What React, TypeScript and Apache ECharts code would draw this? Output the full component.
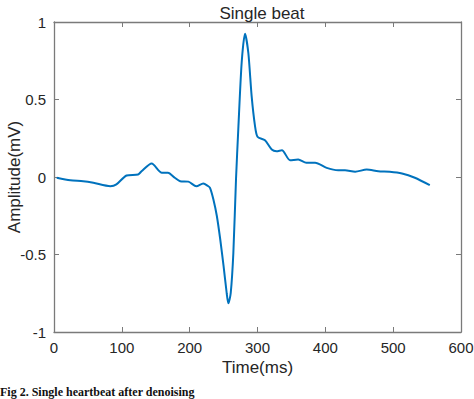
import React, { useEffect, useRef } from "react";
import * as echarts from "echarts";

const titleText = "Single beat";
const xName = "Time(ms)";
const yName = "Amplitude(mV)";
const caption = "Fig 2. Single heartbeat after denoising";

const timeMs = [
  4, 24, 43, 58, 83, 92, 107, 124, 129, 144, 159, 168, 178, 186, 198, 210, 220, 227,
  230, 235, 240, 245, 250, 254.6, 257, 260.5, 264.4, 268.3, 271.7, 276.7, 281.6, 286.5,
  291.4, 296.3, 300, 311, 321, 328, 336, 348, 360, 372, 385, 402, 419, 429, 444, 461, 478,
  495, 513, 532, 554,
];
const amplitude = [
  -0.005, -0.021, -0.027, -0.037, -0.059, -0.048, 0.01, 0.016, 0.037, 0.087, 0.027, 0.027,
  -0.005, -0.027, -0.03, -0.06, -0.042, -0.058, -0.07, -0.145, -0.25, -0.4, -0.575, -0.75,
  -0.815, -0.75, -0.49, -0.016, 0.31, 0.74, 0.925, 0.8, 0.52, 0.33, 0.26, 0.237, 0.177,
  0.166, 0.173, 0.108, 0.113, 0.092, 0.092, 0.059, 0.044, 0.044, 0.034, 0.048, 0.037, 0.034,
  0.023, -0.005, -0.053,
];

export default function App() {
  const ref = useRef<HTMLDivElement>(null);
  useEffect(() => {
    if (!ref.current) return;
    const chart = echarts.init(ref.current, null, { renderer: "svg" });
    const font = "Liberation Sans";
    const frame = "#7a7a7a";
    const axisBase = (pos: string, showLabels: boolean) => ({
      position: pos,
      splitLine: { show: false },
      axisLine: { show: true, onZero: false, lineStyle: { color: frame, width: 1.3, opacity: 1 } },
      axisTick: { show: true, inside: true, length: 5, lineStyle: { color: frame, width: 1, opacity: 1 } },
      axisLabel: showLabels
        ? { show: true, fontFamily: font, fontSize: 15, color: "#262626" }
        : { show: false },
    });
    chart.setOption({
      animation: false,
      title: {
        text: titleText,
        left: 257,
        textAlign: "center",
        top: 0,
        textStyle: { fontFamily: font, fontSize: 17, fontWeight: "normal", color: "#262626" },
      },
      grid: {
        left: 54,
        right: 13,
        top: 22,
        bottom: 67,
        outerBoundsMode: "none",
      },
      xAxis: [
        {
          type: "value",
          min: 0,
          max: 600,
          interval: 100,
          name: xName,
          nameLocation: "middle",
          nameGap: 27,
          nameMoveOverlap: false,
          nameTextStyle: { fontFamily: font, fontSize: 17, color: "#262626" },
          ...axisBase("bottom", true),
        },
        {
          type: "value",
          min: 0,
          max: 600,
          interval: 100,
          ...axisBase("top", false),
        },
      ],
      yAxis: [
        {
          type: "value",
          min: -1,
          max: 1,
          interval: 0.5,
          name: yName,
          nameLocation: "middle",
          nameGap: 31,
          nameMoveOverlap: false,
          nameTextStyle: { fontFamily: font, fontSize: 17, color: "#262626" },
          ...axisBase("left", true),
        },
        {
          type: "value",
          min: -1,
          max: 1,
          interval: 0.5,
          ...axisBase("right", false),
        },
      ],
      graphic: [
        {
          type: "text",
          left: 0,
          top: 386,
          style: {
            text: caption,
            font: "bold 12px 'Liberation Serif'",
            fill: "#111111",
          },
        },
      ],
      series: [
        {
          type: "line",
          xAxisIndex: 0,
          yAxisIndex: 0,
          data: timeMs.map((t, i) => [t, amplitude[i]]),
          showSymbol: false,
          smooth: 0.25,
          lineStyle: { color: "#0072BD", width: 2 },
        },
      ],
    });
    return () => chart.dispose();
  }, []);
  return (
    <div
      ref={ref}
      style={{ position: "fixed", left: 0, top: 0, width: 474, height: 399, background: "#fff" }}
    />
  );
}
